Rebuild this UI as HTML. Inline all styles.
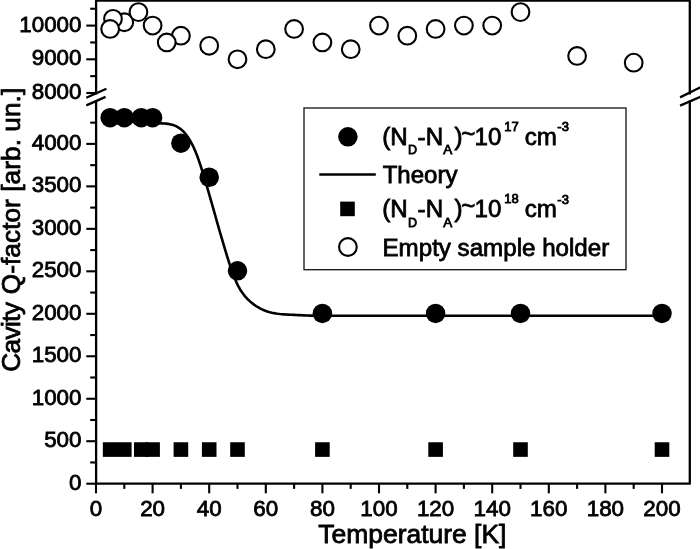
<!DOCTYPE html>
<html lang="en"><head><meta charset="utf-8"><title>Cavity Q-factor vs Temperature</title>
<style>html,body{margin:0;padding:0;background:#fff;overflow:hidden}svg{display:block}</style></head>
<body>
<svg width="700" height="549" viewBox="0 0 700 549" font-family="'Liberation Sans', Arial, sans-serif" fill="#000">
<rect x="0" y="0" width="700" height="549" fill="#fff"/>
<g stroke="#000" stroke-width="2.3" fill="none" stroke-linecap="butt">
<line x1="95.1" y1="0.7" x2="690.8" y2="0.7"/>
<line x1="95.1" y1="483.65" x2="690.8" y2="483.65"/>
<line x1="96.1" y1="0.7" x2="96.1" y2="94.5"/>
<line x1="96.1" y1="100.5" x2="96.1" y2="483.65"/>
<line x1="689.8" y1="0.7" x2="689.8" y2="94.5"/>
<line x1="689.8" y1="100.5" x2="689.8" y2="483.65"/>
<line x1="86.3" y1="97.7" x2="106.4" y2="88.7"/>
<line x1="86.3" y1="105.4" x2="105.6" y2="96.9"/>
<line x1="680.1" y1="97.4" x2="701" y2="87.1"/>
<line x1="680.1" y1="105.6" x2="701" y2="96.6"/>
</g>
<g stroke="#000" stroke-width="2.1" fill="none">
<line x1="86.3" y1="483.70" x2="96.1" y2="483.70"/>
<line x1="86.3" y1="441.22" x2="96.1" y2="441.22"/>
<line x1="86.3" y1="398.75" x2="96.1" y2="398.75"/>
<line x1="86.3" y1="356.27" x2="96.1" y2="356.27"/>
<line x1="86.3" y1="313.80" x2="96.1" y2="313.80"/>
<line x1="86.3" y1="271.32" x2="96.1" y2="271.32"/>
<line x1="86.3" y1="228.85" x2="96.1" y2="228.85"/>
<line x1="86.3" y1="186.38" x2="96.1" y2="186.38"/>
<line x1="86.3" y1="143.90" x2="96.1" y2="143.90"/>
<line x1="90.2" y1="462.46" x2="96.1" y2="462.46"/>
<line x1="90.2" y1="419.99" x2="96.1" y2="419.99"/>
<line x1="90.2" y1="377.51" x2="96.1" y2="377.51"/>
<line x1="90.2" y1="335.04" x2="96.1" y2="335.04"/>
<line x1="90.2" y1="292.56" x2="96.1" y2="292.56"/>
<line x1="90.2" y1="250.09" x2="96.1" y2="250.09"/>
<line x1="90.2" y1="207.61" x2="96.1" y2="207.61"/>
<line x1="90.2" y1="165.14" x2="96.1" y2="165.14"/>
<line x1="90.2" y1="122.66" x2="96.1" y2="122.66"/>
<line x1="86.3" y1="93.00" x2="96.1" y2="93.00"/>
<line x1="86.3" y1="59.30" x2="96.1" y2="59.30"/>
<line x1="86.3" y1="25.60" x2="96.1" y2="25.60"/>
<line x1="90.2" y1="76.15" x2="96.1" y2="76.15"/>
<line x1="90.2" y1="42.45" x2="96.1" y2="42.45"/>
<line x1="90.2" y1="8.75" x2="96.1" y2="8.75"/>
<line x1="96.00" y1="483.65" x2="96.00" y2="493.3"/>
<line x1="152.60" y1="483.65" x2="152.60" y2="493.3"/>
<line x1="209.20" y1="483.65" x2="209.20" y2="493.3"/>
<line x1="265.80" y1="483.65" x2="265.80" y2="493.3"/>
<line x1="322.40" y1="483.65" x2="322.40" y2="493.3"/>
<line x1="379.00" y1="483.65" x2="379.00" y2="493.3"/>
<line x1="435.60" y1="483.65" x2="435.60" y2="493.3"/>
<line x1="492.20" y1="483.65" x2="492.20" y2="493.3"/>
<line x1="548.80" y1="483.65" x2="548.80" y2="493.3"/>
<line x1="605.40" y1="483.65" x2="605.40" y2="493.3"/>
<line x1="662.00" y1="483.65" x2="662.00" y2="493.3"/>
<line x1="124.30" y1="483.65" x2="124.30" y2="488.9"/>
<line x1="180.90" y1="483.65" x2="180.90" y2="488.9"/>
<line x1="237.50" y1="483.65" x2="237.50" y2="488.9"/>
<line x1="294.10" y1="483.65" x2="294.10" y2="488.9"/>
<line x1="350.70" y1="483.65" x2="350.70" y2="488.9"/>
<line x1="407.30" y1="483.65" x2="407.30" y2="488.9"/>
<line x1="463.90" y1="483.65" x2="463.90" y2="488.9"/>
<line x1="520.50" y1="483.65" x2="520.50" y2="488.9"/>
<line x1="577.10" y1="483.65" x2="577.10" y2="488.9"/>
<line x1="633.70" y1="483.65" x2="633.70" y2="488.9"/>
</g>
<g font-size="22.4" stroke="#000" stroke-width="0.8">
<text x="81.5" y="489.70" text-anchor="end">0</text>
<text x="81.5" y="447.22" text-anchor="end">500</text>
<text x="81.5" y="404.75" text-anchor="end">1000</text>
<text x="81.5" y="362.27" text-anchor="end">1500</text>
<text x="81.5" y="319.80" text-anchor="end">2000</text>
<text x="81.5" y="277.32" text-anchor="end">2500</text>
<text x="81.5" y="234.85" text-anchor="end">3000</text>
<text x="81.5" y="192.38" text-anchor="end">3500</text>
<text x="81.5" y="149.90" text-anchor="end">4000</text>
<text x="81.5" y="99.00" text-anchor="end">8000</text>
<text x="81.5" y="65.30" text-anchor="end">9000</text>
<text x="81.5" y="31.60" text-anchor="end">10000</text>
<text x="96.00" y="516.0" text-anchor="middle">0</text>
<text x="152.60" y="516.0" text-anchor="middle">20</text>
<text x="209.20" y="516.0" text-anchor="middle">40</text>
<text x="265.80" y="516.0" text-anchor="middle">60</text>
<text x="322.40" y="516.0" text-anchor="middle">80</text>
<text x="379.00" y="516.0" text-anchor="middle">100</text>
<text x="435.60" y="516.0" text-anchor="middle">120</text>
<text x="492.20" y="516.0" text-anchor="middle">140</text>
<text x="548.80" y="516.0" text-anchor="middle">160</text>
<text x="605.40" y="516.0" text-anchor="middle">180</text>
<text x="662.00" y="516.0" text-anchor="middle">200</text>
</g>
<g font-size="26" stroke="#000" stroke-width="0.8">
<text x="318.3" y="543" font-size="26.45">Temperature [K]</text>
<text transform="translate(20.3,371.8) rotate(-90)" x="0" y="0" font-size="26.15" textLength="69.8" lengthAdjust="spacing">Cavity</text>
<text transform="translate(20.3,294.2) rotate(-90)" x="0" y="0" font-size="26.15" textLength="206.4" lengthAdjust="spacing">Q-factor [arb. un.]</text>
</g>
<polyline points="110.0,121.84 112.0,121.83 114.0,121.82 116.0,121.81 118.0,121.81 120.0,121.82 122.0,121.84 124.0,121.86 126.0,121.89 128.0,121.92 130.0,121.96 132.0,122.00 134.0,122.05 136.0,122.11 138.0,122.17 140.0,122.24 142.0,122.31 144.0,122.39 146.0,122.48 148.0,122.57 150.0,122.66 152.0,122.77 154.0,122.87 156.0,122.99 158.0,123.11 160.0,123.23 162.0,123.36 164.0,123.50 166.0,123.66 168.0,123.90 170.0,124.23 172.0,124.70 174.0,125.33 176.0,126.17 178.0,127.23 180.0,128.57 182.0,130.20 184.0,132.17 186.0,134.50 188.0,137.24 190.0,140.40 192.0,144.04 194.0,148.18 196.0,152.84 198.0,158.07 200.0,163.82 202.0,169.98 204.0,176.48 206.0,183.22 208.0,190.12 210.0,197.10 212.0,204.13 214.0,211.19 216.0,218.25 218.0,225.28 220.0,232.27 222.0,239.18 224.0,245.98 226.0,252.66 228.0,259.15 230.0,265.35 232.0,271.18 234.0,276.55 236.0,281.37 238.0,285.57 240.0,289.19 242.0,292.33 244.0,295.06 246.0,297.45 248.0,299.54 250.0,301.41 252.0,303.08 254.0,304.61 256.0,305.99 258.0,307.23 260.0,308.34 262.0,309.33 264.0,310.21 266.0,310.98 268.0,311.65 270.0,312.23 272.0,312.73 274.0,313.15 276.0,313.50 278.0,313.80 280.0,314.04 282.0,314.23 284.0,314.39 286.0,314.52 288.0,314.63 290.0,314.73 292.0,314.81 294.0,314.90 296.0,314.99 298.0,315.08 300.0,315.17 302.0,315.26 304.0,315.35 306.0,315.43 308.0,315.51 310.0,315.59 312.0,315.66 314.0,315.72 320.0,315.80 662.0,315.80" fill="none" stroke="#000" stroke-width="2.6" stroke-linejoin="round"/>
<g fill="#fff" stroke="#000" stroke-width="2.1">
<circle cx="180.90" cy="35.71" r="8.85"/>
<circle cx="166.75" cy="42.45" r="8.85"/>
<circle cx="152.60" cy="25.60" r="8.85"/>
<circle cx="124.30" cy="22.23" r="8.85"/>
<circle cx="138.45" cy="12.12" r="8.85"/>
<circle cx="112.98" cy="18.86" r="8.85"/>
<circle cx="110.15" cy="28.97" r="8.85"/>
<circle cx="209.20" cy="45.82" r="8.85"/>
<circle cx="237.50" cy="59.30" r="8.85"/>
<circle cx="265.80" cy="49.19" r="8.85"/>
<circle cx="294.10" cy="28.97" r="8.85"/>
<circle cx="322.40" cy="42.45" r="8.85"/>
<circle cx="350.70" cy="49.19" r="8.85"/>
<circle cx="379.00" cy="25.60" r="8.85"/>
<circle cx="407.30" cy="35.71" r="8.85"/>
<circle cx="435.60" cy="28.97" r="8.85"/>
<circle cx="463.90" cy="25.60" r="8.85"/>
<circle cx="492.20" cy="25.60" r="8.85"/>
<circle cx="520.50" cy="12.12" r="8.85"/>
<circle cx="577.10" cy="55.93" r="8.85"/>
<circle cx="633.70" cy="62.67" r="8.85"/>
</g>
<circle cx="110.15" cy="117.67" r="9.75"/>
<circle cx="124.30" cy="117.67" r="9.75"/>
<circle cx="141.28" cy="117.67" r="9.75"/>
<circle cx="152.60" cy="117.67" r="9.75"/>
<circle cx="180.90" cy="143.20" r="9.75"/>
<circle cx="209.20" cy="177.24" r="9.75"/>
<circle cx="237.50" cy="270.85" r="9.75"/>
<circle cx="322.40" cy="313.40" r="9.75"/>
<circle cx="435.60" cy="313.40" r="9.75"/>
<circle cx="520.50" cy="313.40" r="9.75"/>
<circle cx="662.00" cy="313.40" r="9.75"/>
<rect x="102.85" y="442.26" width="14.6" height="14.6"/>
<rect x="117.00" y="442.26" width="14.6" height="14.6"/>
<rect x="133.98" y="442.26" width="14.6" height="14.6"/>
<rect x="145.30" y="442.26" width="14.6" height="14.6"/>
<rect x="173.60" y="442.26" width="14.6" height="14.6"/>
<rect x="201.90" y="442.26" width="14.6" height="14.6"/>
<rect x="230.20" y="442.26" width="14.6" height="14.6"/>
<rect x="315.10" y="442.26" width="14.6" height="14.6"/>
<rect x="428.30" y="442.26" width="14.6" height="14.6"/>
<rect x="513.20" y="442.26" width="14.6" height="14.6"/>
<rect x="654.70" y="442.26" width="14.6" height="14.6"/>
<rect x="304.0" y="108.0" width="322.0" height="161.7" fill="#fff" stroke="#111" stroke-width="1.3"/>
<circle cx="347.9" cy="136.85" r="9.75"/>
<line x1="319.3" y1="174.5" x2="375.8" y2="174.5" stroke="#000" stroke-width="2.6"/>
<rect x="340.2" y="201.6" width="14.6" height="14.6"/>
<circle cx="347.9" cy="247" r="8.85" fill="#fff" stroke="#000" stroke-width="2.1"/>
<g font-size="24.15" stroke="#000" stroke-width="0.8">
<text x="382.2" y="144.8">(N</text><text x="408" y="154.4" font-size="12.5">D</text><text x="417.6" y="144.8">-N</text><text x="443.2" y="154.4" font-size="13.5">A</text><text x="454.4" y="144.8">)</text><text x="461.3" y="141.5">~</text><text x="474.6" y="144.8">10</text><text x="504.2" y="130.5" font-size="13">17</text><text x="524.8" y="144.8">cm</text><text x="557.3" y="131.4" font-size="13">-3</text>
<text x="382.7" y="183" font-size="24">Theory</text>
<text x="382.2" y="216.9">(N</text><text x="408" y="226.5" font-size="12.5">D</text><text x="417.6" y="216.9">-N</text><text x="443.2" y="226.5" font-size="13.5">A</text><text x="454.4" y="216.9">)</text><text x="461.3" y="213.6">~</text><text x="474.6" y="216.9">10</text><text x="504.2" y="202.6" font-size="13">18</text><text x="524.8" y="216.9">cm</text><text x="557.3" y="203.5" font-size="13">-3</text>
<text x="382.5" y="255.6">Empty sample holder</text>
</g>
</svg>
</body></html>
